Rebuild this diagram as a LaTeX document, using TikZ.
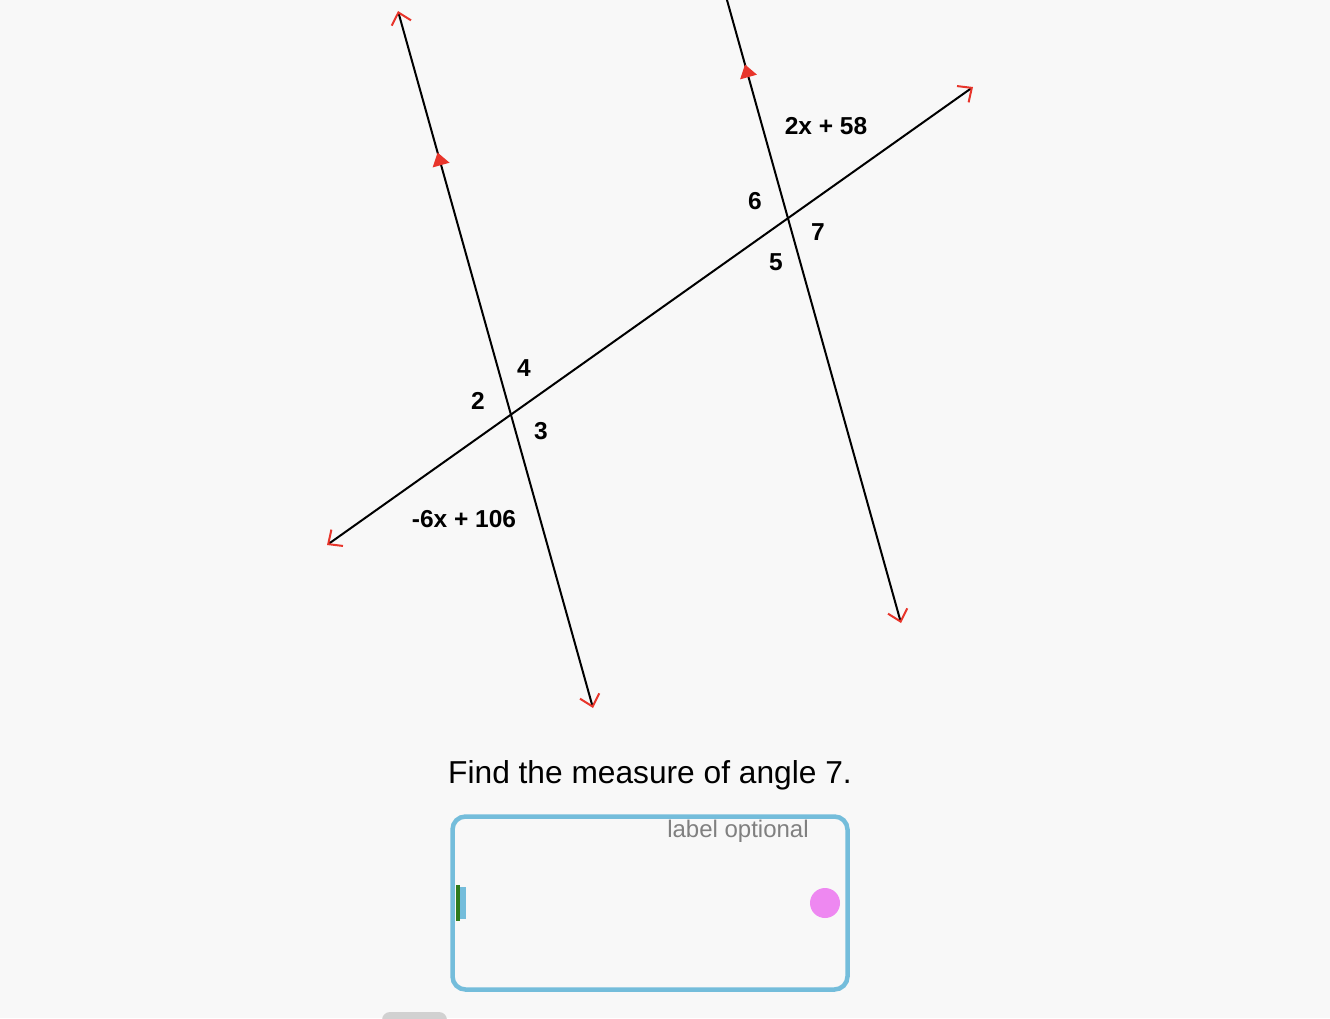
\documentclass[tikz,border=0pt]{standalone}
\usepackage{fontspec}
\setmainfont{Liberation Sans}
\usetikzlibrary{arrows.meta}
\usetikzlibrary{decorations.markings}
\definecolor{tipred}{HTML}{E8352B}
\definecolor{boxblue}{HTML}{74BDDB}
\definecolor{bggray}{HTML}{F8F8F8}
\definecolor{pinkdot}{HTML}{EE88F1}
\definecolor{cursorgreen}{HTML}{2F7A1C}
\definecolor{hintgray}{HTML}{808080}
\tikzset{barb/.tip={Straight Barb[color=tipred,length=11pt,width=20pt,line width=2pt]}}

\begin{document}
\begin{tikzpicture}[x=1pt, y=-1pt]
\tikzset{midarrow/.style={postaction={decorate,decoration={markings,mark=at position #1 with {\arrow{Triangle[color=tipred,length=13pt,width=17pt]}}}}}}
\tikzset{lbl/.style={font=\fontsize{24.5}{28}\selectfont\bfseries, inner sep=0pt}}
    \fill[bggray] (0,0) rectangle (1330,1018);
    \clip (0,0) rectangle (1330,1018);

    \coordinate (Lt) at (398,11);
    \coordinate (Lb) at (593,708);
    \coordinate (Rt) at (720,-25);
    \coordinate (Rb) at (901,623);
    \coordinate (Tl) at (327,545);
    \coordinate (Tr) at (973,87);

    \draw[line width=2pt, barb-barb, midarrow=0.797] (Lb) -- (Lt);
    \draw[line width=2pt, barb-, midarrow=0.862] (Rb) -- (Rt);
    \draw[line width=2pt, barb-barb] (Tl) -- (Tr);
% % % % % % % % % % % % % % % % % % %
    \node[lbl] (e58) at (826,126) {2x + 58};
    \node[lbl] (a6) at (755,201) {6};
    \node[lbl] (a7) at (818,232) {7};
    \node[lbl] (a5) at (776,262) {5};
    \node[lbl] (a4) at (524,368) {4};
    \node[lbl] (a2) at (478,401) {2};
    \node[lbl] (a3) at (541,431) {3};
    \node[lbl] (e106) at (464,519) {-6x + 106};
% % % % % % % % % % % % % % % % % % %
    \node[font=\fontsize{31.7}{36}\selectfont, inner sep=0pt] (ask) at (650,775) {Find the measure of angle 7.};
    \node[draw=boxblue, line width=4.5pt, rounded corners=13pt, minimum width=395pt, minimum height=173pt] (box) at (650,903) {};
    \node[font=\fontsize{24}{28}\selectfont, text=hintgray, inner sep=0pt] (hint) at (738,831) {label optional};
    \fill[cursorgreen] (456,885) rectangle (460,921);
    \fill[boxblue] (460,887) rectangle (466,919);
    \fill[pinkdot] (825,903) circle (15pt);
    \fill[black!18, rounded corners=8pt] (382,1012) rectangle (447,1040);
\end{tikzpicture}
\end{document}
